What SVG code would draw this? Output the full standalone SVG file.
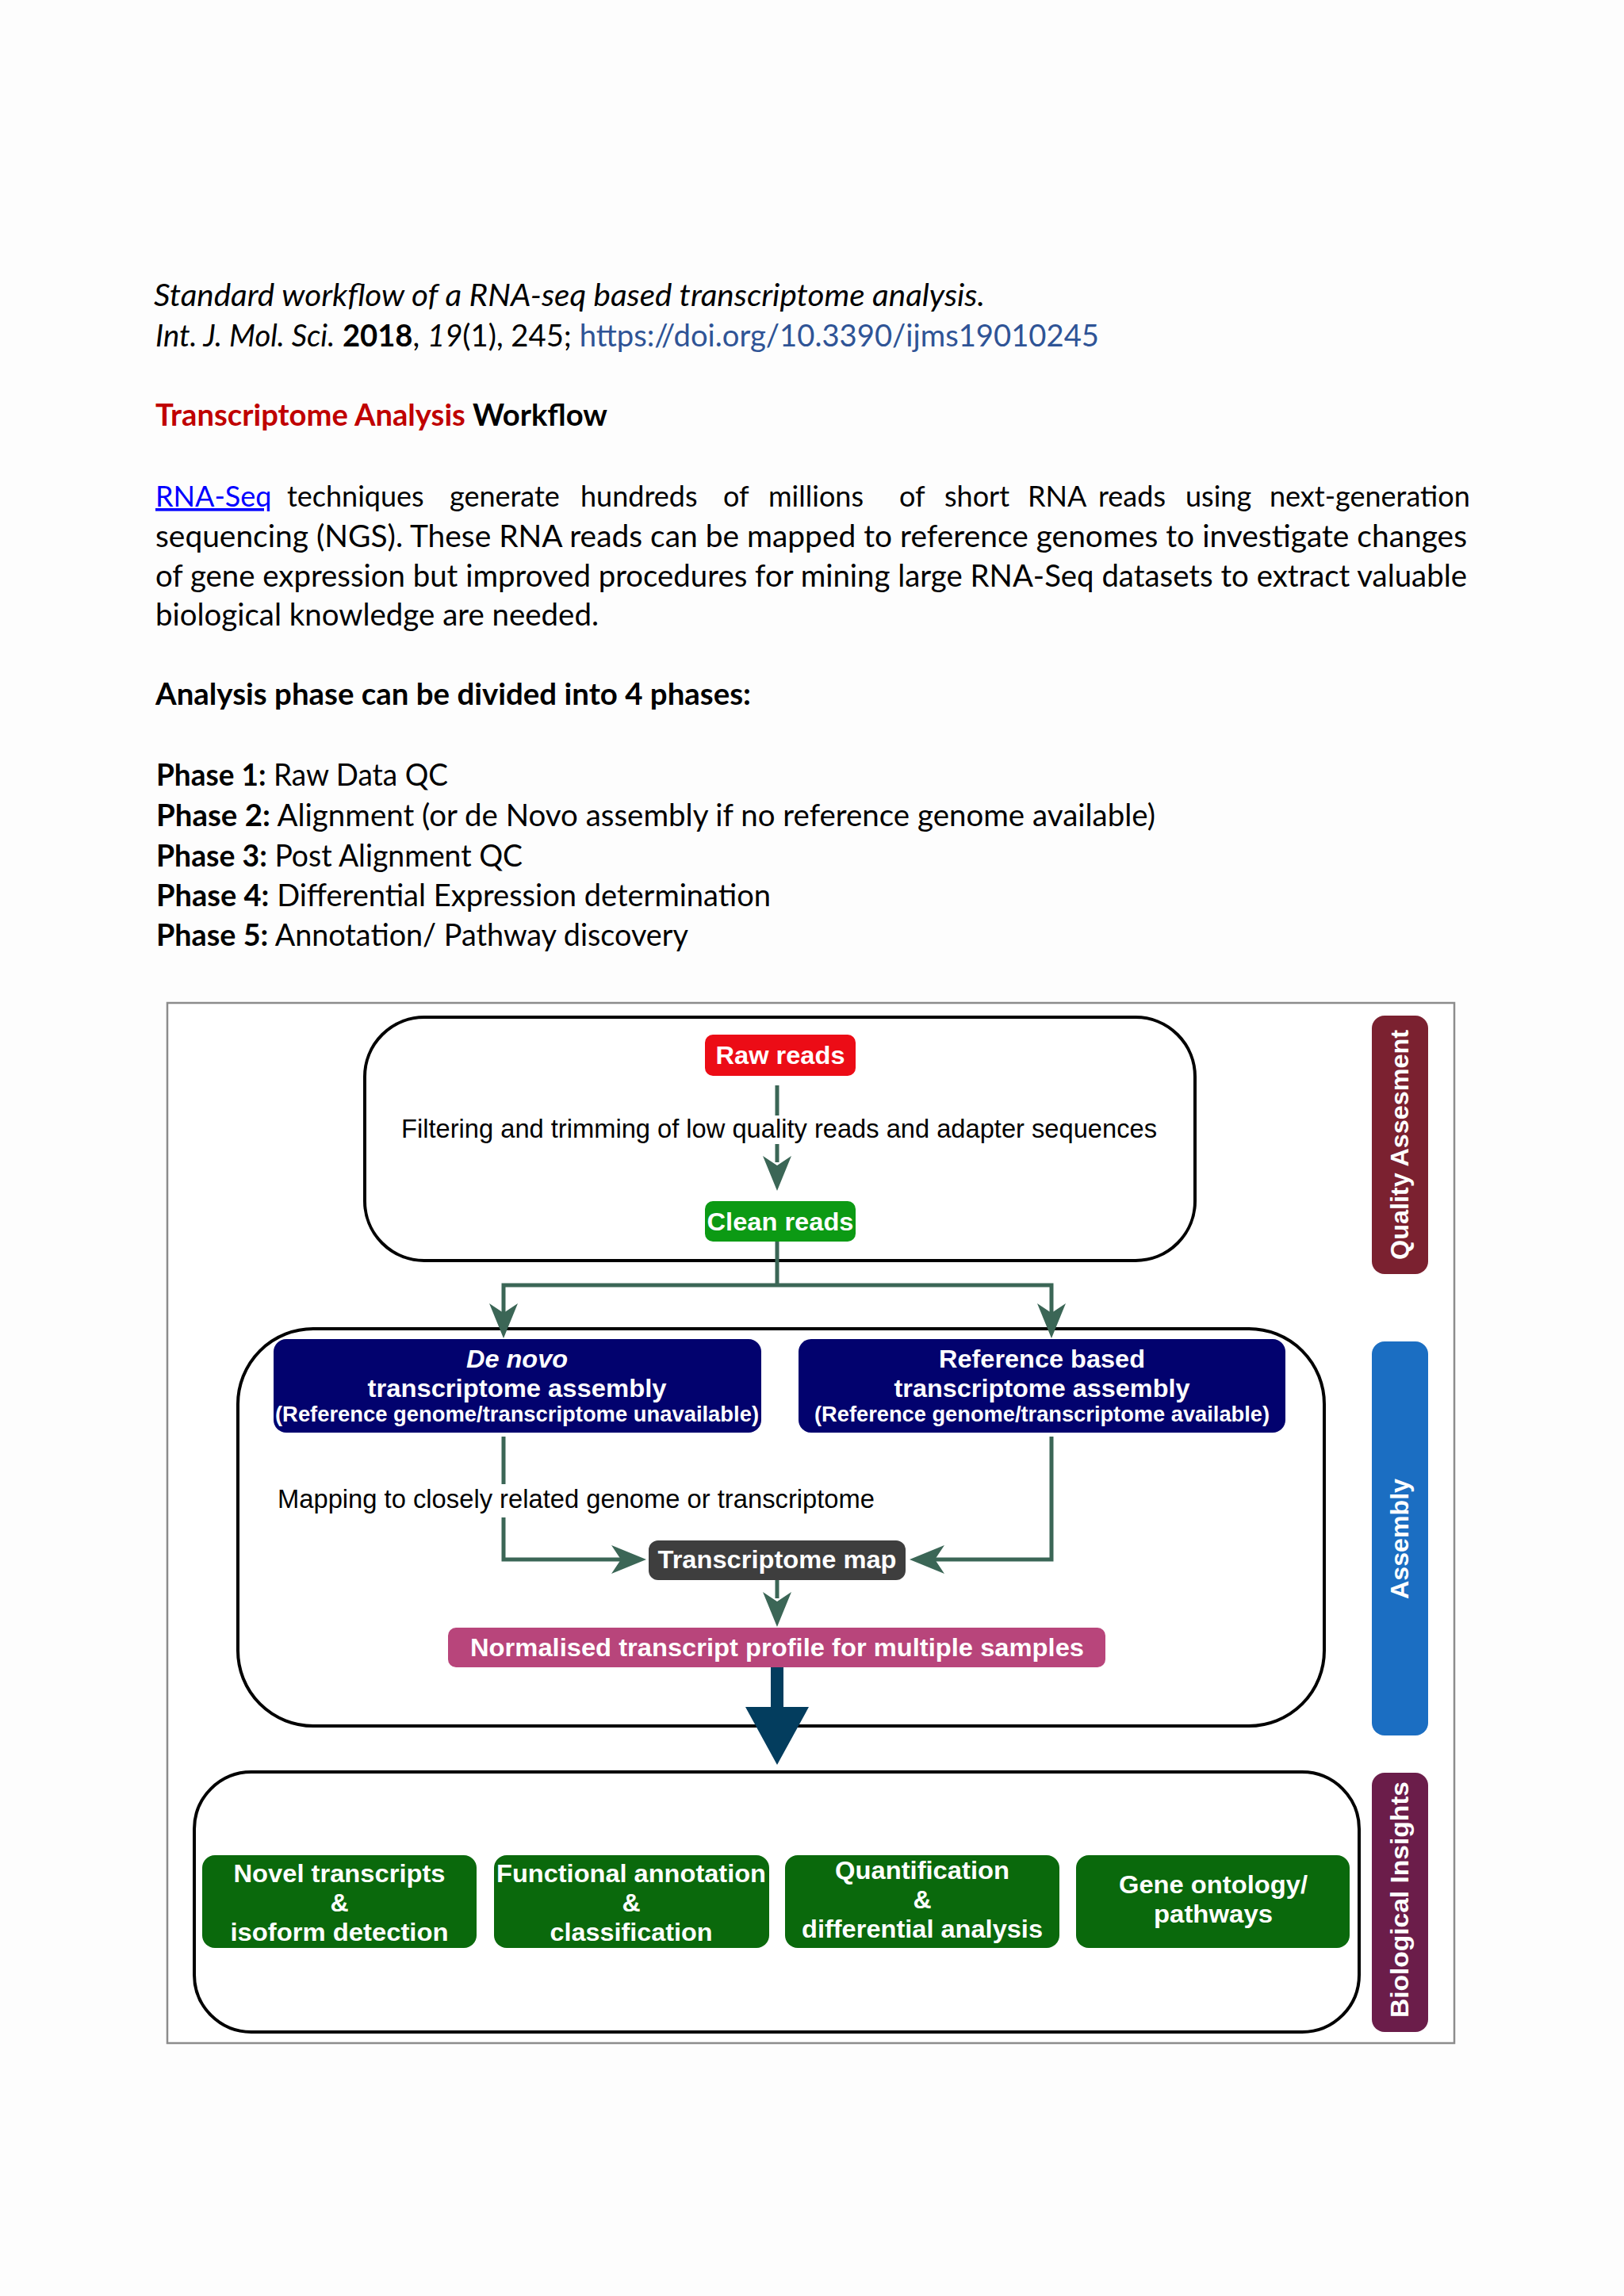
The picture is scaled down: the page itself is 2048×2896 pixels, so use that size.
<svg xmlns="http://www.w3.org/2000/svg" width="2048" height="2896" viewBox="0 0 2048 2896">
<style>
.doc{font-family:Lato,"Liberation Sans",sans-serif;font-size:38px;fill:#000}
.it{font-style:italic}
.b{font-weight:bold}
.lab{font-family:"Liberation Sans",Arial,sans-serif;font-weight:bold;font-size:32px;fill:#fff;text-anchor:middle}
.sm{font-size:27px}
.note{font-family:"Liberation Sans",Arial,sans-serif;font-size:32.5px;fill:#000}
.cont{fill:#fff;stroke:#000;stroke-width:4}
.conn{fill:none;stroke:#3b6656;stroke-width:5}
.head{fill:#3b6656}
.gbox{fill:#0a690c}
.bbox{fill:#02026e}
</style>
<defs>
<path id="ah" d="M0,0 L-18,-44 L0,-32 L18,-44 Z"/>
</defs>
<rect width="2048" height="2896" fill="#fdfdfd"/>

<g id="header">
<text class="doc it" x="194" y="386" textLength="1048" lengthAdjust="spacingAndGlyphs">Standard workflow of a RNA-seq based transcriptome analysis.</text>
<text class="doc" x="196" y="437" textLength="1190" lengthAdjust="spacingAndGlyphs"><tspan class="it">Int. J. Mol. Sci.</tspan> <tspan class="b">2018</tspan>, <tspan class="it">19</tspan>(1), 245; <tspan fill="#2f5496">https://doi.org/10.3390/ijms19010245</tspan></text>
<text class="doc b" x="196" y="537" textLength="570" lengthAdjust="spacingAndGlyphs"><tspan fill="#c00000">Transcriptome Analysis</tspan> Workflow</text>
<text class="doc" y="639" style="font-size:36px"><tspan x="196" fill="#0000ff" text-decoration="underline">RNA-Seq</tspan> <tspan x="362">techniques</tspan> <tspan x="567">generate</tspan> <tspan x="732">hundreds</tspan> <tspan x="912">of</tspan> <tspan x="969">millions</tspan> <tspan x="1134">of</tspan> <tspan x="1191">short</tspan> <tspan x="1296">RNA</tspan> <tspan x="1385">reads</tspan> <tspan x="1495">using</tspan> <tspan x="1601">next-generation</tspan></text>
<text class="doc" x="196" y="690" textLength="1654" lengthAdjust="spacingAndGlyphs">sequencing (NGS). These RNA reads can be mapped to reference genomes to investigate changes</text>
<text class="doc" x="196" y="740" textLength="1654" lengthAdjust="spacingAndGlyphs">of gene expression but improved procedures for mining large RNA-Seq datasets to extract valuable</text>
<text class="doc" x="196" y="789" textLength="559" lengthAdjust="spacingAndGlyphs">biological knowledge are needed.</text>
<text class="doc b" x="196" y="889" textLength="751" lengthAdjust="spacingAndGlyphs">Analysis phase can be divided into 4 phases:</text>
<text class="doc" x="197" y="991" textLength="368" lengthAdjust="spacingAndGlyphs"><tspan class="b">Phase 1:</tspan> Raw Data QC</text>
<text class="doc" x="197" y="1042" textLength="1260" lengthAdjust="spacingAndGlyphs"><tspan class="b">Phase 2:</tspan> Alignment (or de Novo assembly if no reference genome available)</text>
<text class="doc" x="197" y="1093" textLength="462" lengthAdjust="spacingAndGlyphs"><tspan class="b">Phase 3:</tspan> Post Alignment QC</text>
<text class="doc" x="197" y="1143" textLength="775" lengthAdjust="spacingAndGlyphs"><tspan class="b">Phase 4:</tspan> Differential Expression determination</text>
<text class="doc" x="197" y="1193" textLength="671" lengthAdjust="spacingAndGlyphs"><tspan class="b">Phase 5:</tspan> Annotation/ Pathway discovery</text>
</g>

<g id="frame">
<rect x="211" y="1265" width="1623" height="1312" fill="#fff" stroke="#8c8c8c" stroke-width="2.5"/>
</g>

<g id="stage-quality">
<rect class="cont" x="460" y="1283" width="1047" height="307" rx="75" ry="75"/>
</g>
<g id="stage-assembly">
<rect class="cont" x="300" y="1676" width="1370" height="501" rx="95" ry="95"/>
</g>
<g id="stage-insights">
<rect class="cont" x="245" y="2235" width="1469" height="328" rx="72" ry="72"/>
</g>

<g id="label-quality">
<rect x="1730" y="1281" width="71" height="326" rx="16" fill="#7b2130"/>
<text class="lab" transform="translate(1776,1444) rotate(-90)" textLength="290" lengthAdjust="spacingAndGlyphs">Quality Assesment</text>
</g>
<g id="label-assembly">
<rect x="1730" y="1692" width="71" height="497" rx="16" fill="#1b6ec2"/>
<text class="lab" transform="translate(1776,1941) rotate(-90)" textLength="152" lengthAdjust="spacingAndGlyphs">Assembly</text>
</g>
<g id="label-insights">
<rect x="1730" y="2236" width="71" height="327" rx="16" fill="#6b1d4a"/>
<text class="lab" transform="translate(1776,2396) rotate(-90)" textLength="298" lengthAdjust="spacingAndGlyphs">Biological Insights</text>
</g>

<g id="raw-reads">
<rect x="889" y="1305" width="190" height="52" rx="10" fill="#ec0c16"/>
<text class="lab" x="984" y="1342" textLength="163" lengthAdjust="spacingAndGlyphs">Raw reads</text>
</g>
<g id="clean-reads">
<rect x="889" y="1515" width="190" height="51" rx="10" fill="#0c9a14"/>
<text class="lab" x="984" y="1552" textLength="185" lengthAdjust="spacingAndGlyphs">Clean reads</text>
</g>
<g id="de-novo">
<rect class="bbox" x="345" y="1689" width="615" height="118" rx="16"/>
<text class="lab it" x="652" y="1725" textLength="128" lengthAdjust="spacingAndGlyphs">De novo</text>
<text class="lab" x="652" y="1762" textLength="377" lengthAdjust="spacingAndGlyphs">transcriptome assembly</text>
<text class="lab sm" x="652" y="1793" textLength="610" lengthAdjust="spacingAndGlyphs">(Reference genome/transcriptome unavailable)</text>
</g>
<g id="reference-based">
<rect class="bbox" x="1007" y="1689" width="614" height="118" rx="16"/>
<text class="lab" x="1314" y="1725" textLength="260" lengthAdjust="spacingAndGlyphs">Reference based</text>
<text class="lab" x="1314" y="1762" textLength="373" lengthAdjust="spacingAndGlyphs">transcriptome assembly</text>
<text class="lab sm" x="1314" y="1793" textLength="574" lengthAdjust="spacingAndGlyphs">(Reference genome/transcriptome available)</text>
</g>
<g id="transcriptome-map">
<rect x="818" y="1943" width="324" height="50" rx="12" fill="#3e3e3e"/>
<text class="lab" x="980" y="1978" textLength="301" lengthAdjust="spacingAndGlyphs">Transcriptome map</text>
</g>
<g id="normalised-profile">
<rect x="565" y="2053" width="829" height="50" rx="10" fill="#b8457b"/>
<text class="lab" x="980" y="2089" textLength="774" lengthAdjust="spacingAndGlyphs">Normalised transcript profile for multiple samples</text>
</g>
<g id="novel-transcripts">
<rect class="gbox" x="255" y="2340" width="346" height="117" rx="16"/>
<text class="lab" x="428" y="2374" textLength="267" lengthAdjust="spacingAndGlyphs">Novel transcripts</text>
<text class="lab" x="428" y="2411">&amp;</text>
<text class="lab" x="428" y="2448" textLength="275" lengthAdjust="spacingAndGlyphs">isoform detection</text>
</g>
<g id="functional-annotation">
<rect class="gbox" x="623" y="2340" width="347" height="117" rx="16"/>
<text class="lab" x="796" y="2374" textLength="340" lengthAdjust="spacingAndGlyphs">Functional annotation</text>
<text class="lab" x="796" y="2411">&amp;</text>
<text class="lab" x="796" y="2448" textLength="205" lengthAdjust="spacingAndGlyphs">classification</text>
</g>
<g id="quantification">
<rect class="gbox" x="990" y="2340" width="346" height="117" rx="16"/>
<text class="lab" x="1163" y="2370" textLength="220" lengthAdjust="spacingAndGlyphs">Quantification</text>
<text class="lab" x="1163" y="2407">&amp;</text>
<text class="lab" x="1163" y="2444" textLength="304" lengthAdjust="spacingAndGlyphs">differential analysis</text>
</g>
<g id="gene-ontology">
<rect class="gbox" x="1357" y="2340" width="345" height="117" rx="16"/>
<text class="lab" x="1530" y="2388" textLength="238" lengthAdjust="spacingAndGlyphs">Gene ontology/</text>
<text class="lab" x="1530" y="2425" textLength="150" lengthAdjust="spacingAndGlyphs">pathways</text>
</g>

<g id="connectors">
<path class="conn" d="M980,1369 V1407 M980,1443 V1466"/>
<use href="#ah" class="head" transform="translate(980,1502)"/>
<text class="note" x="506" y="1435" textLength="953" lengthAdjust="spacingAndGlyphs">Filtering and trimming of low quality reads and adapter sequences</text>
<path class="conn" d="M980,1566 V1621 M635,1656 V1621 H1326 V1656"/>
<use href="#ah" class="head" transform="translate(635,1688)"/>
<use href="#ah" class="head" transform="translate(1326,1688)"/>
<path class="conn" d="M635,1812 V1872 M635,1914 V1967 H786"/>
<text class="note" x="350" y="1902" textLength="753" lengthAdjust="spacingAndGlyphs">Mapping to closely related genome or transcriptome</text>
<path class="conn" d="M1326,1812 V1967 H1176"/>
<use href="#ah" class="head" transform="translate(815,1967) rotate(-90)"/>
<use href="#ah" class="head" transform="translate(1147,1967) rotate(90)"/>
<path class="conn" d="M980,1993 V2016"/>
<use href="#ah" class="head" transform="translate(980,2052)"/>
<path d="M972,2103 H988 V2153 H1020 L980,2226 L940,2153 H972 Z" fill="#033d5e"/>
</g>
</svg>
